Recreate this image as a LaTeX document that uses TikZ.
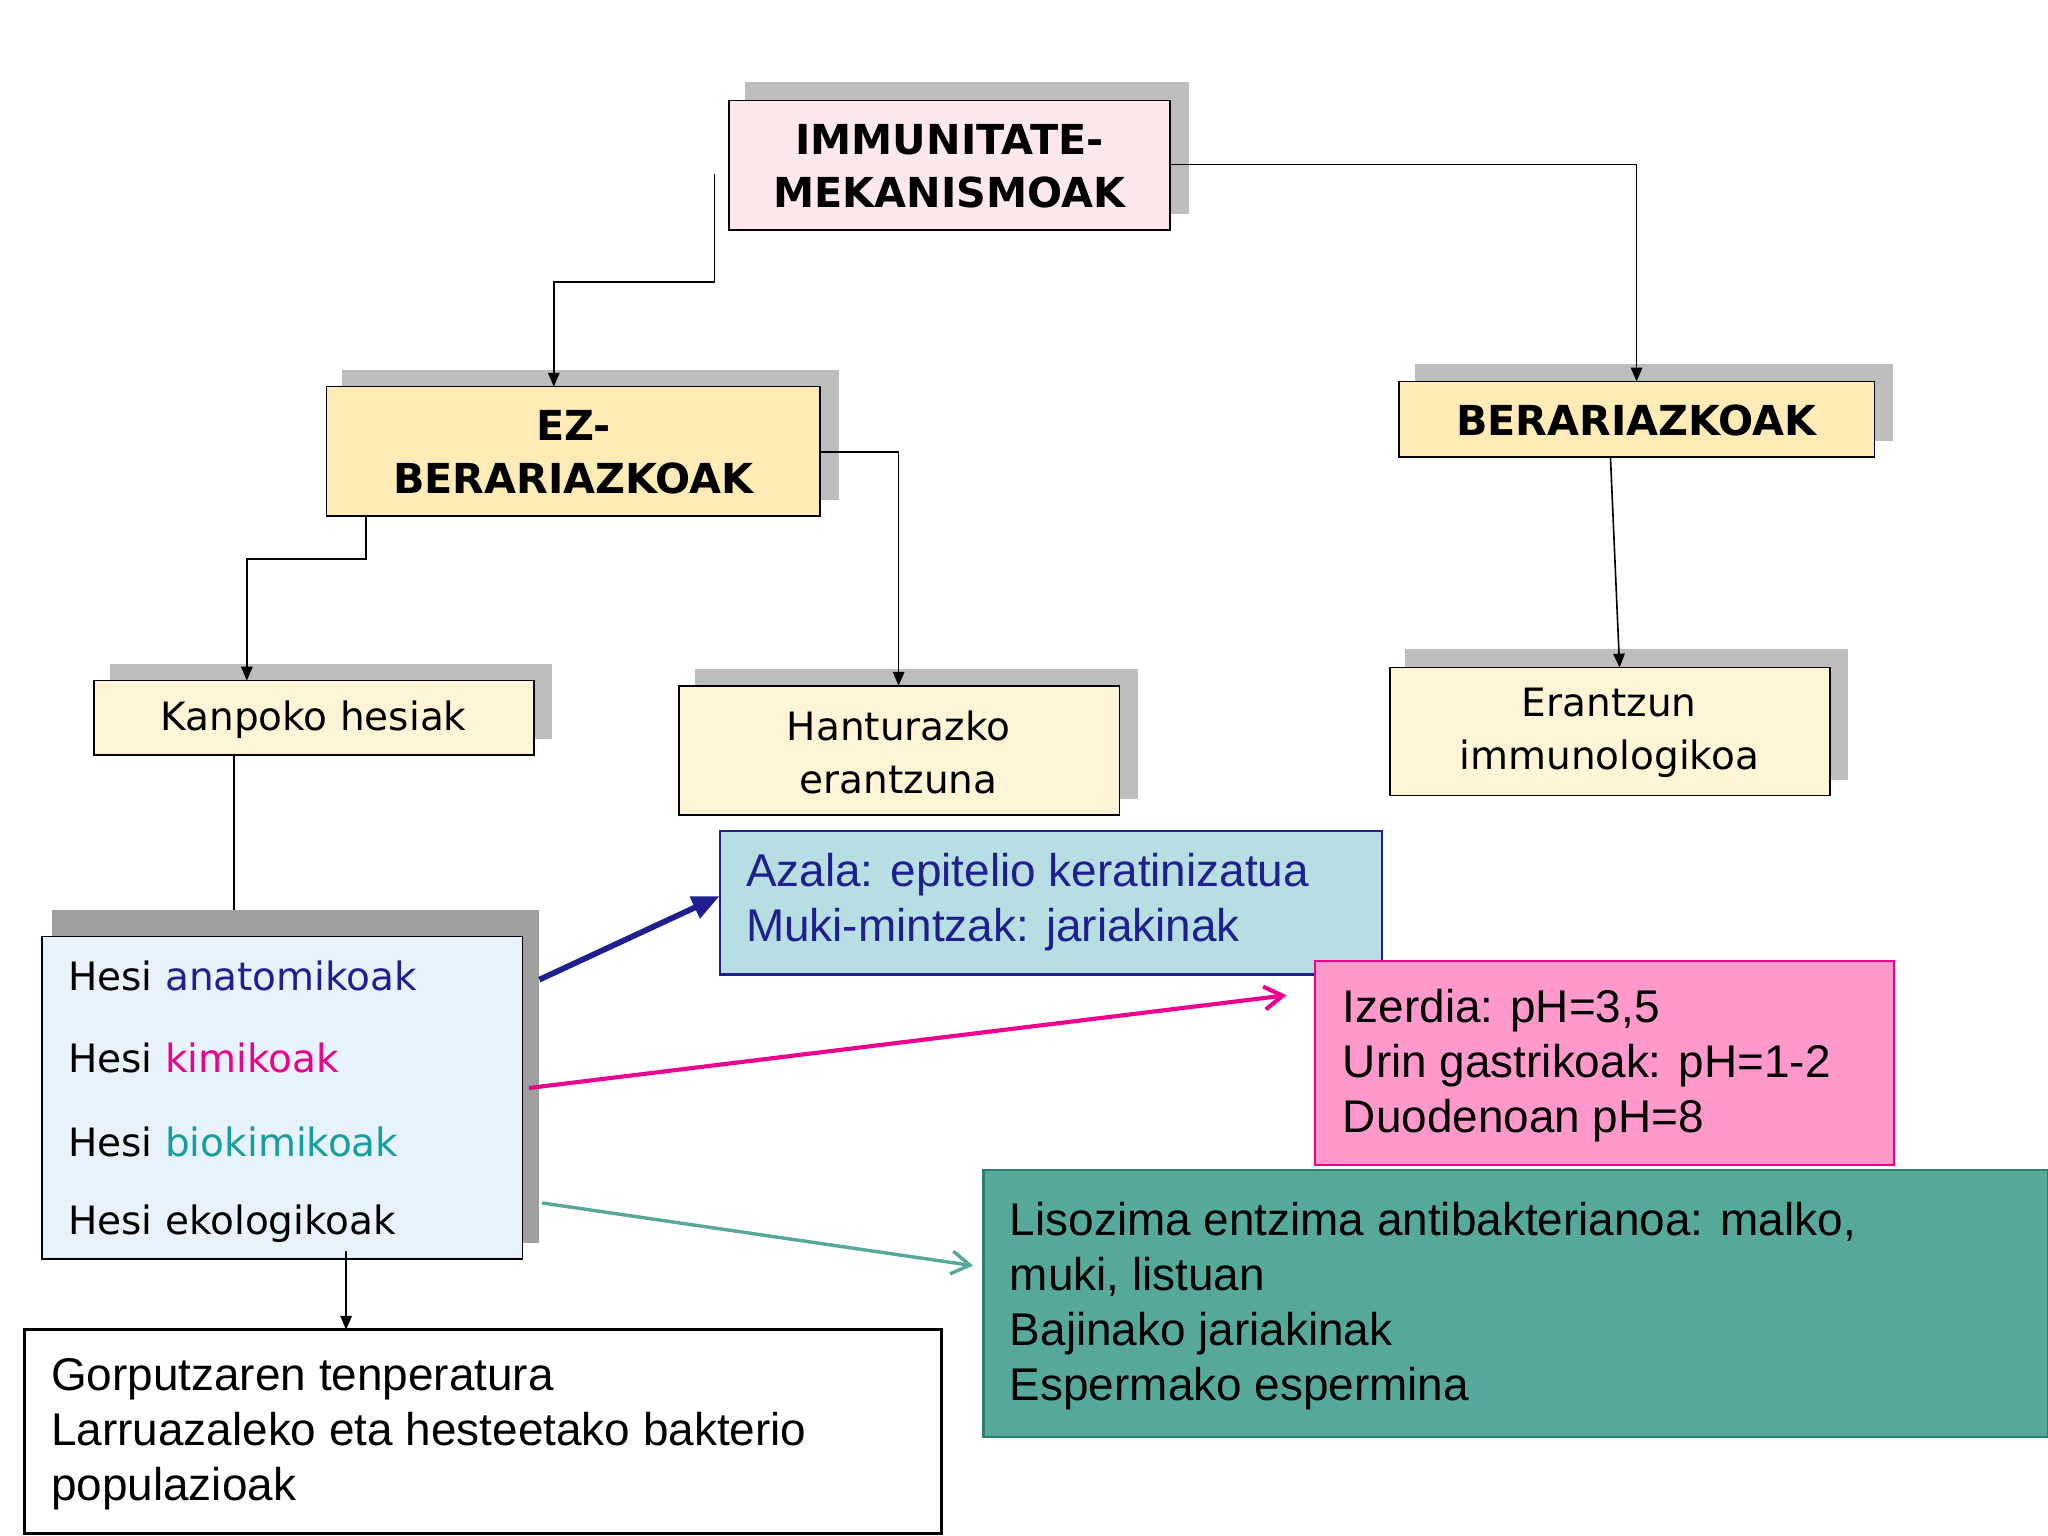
\documentclass[tikz,border=0pt]{standalone}
\usepackage{fontspec}
\setmainfont{Liberation Sans}
\newfontfamily\vfont{DejaVu Sans}
\usetikzlibrary{arrows.meta}
\definecolor{pinkbox}{HTML}{FDE9EC}
\definecolor{yelbox}{HTML}{FFEBB5}
\definecolor{ltyel}{HTML}{FFF5D6}
\definecolor{hesibox}{HTML}{E8F2FC}
\definecolor{azbox}{HTML}{B6DEE3}
\definecolor{navyc}{HTML}{1F1F8F}
\definecolor{izbox}{HTML}{FF99CC}
\definecolor{lisbox}{HTML}{55A89A}
\definecolor{lisborder}{HTML}{2E7F72}
\definecolor{tealt}{HTML}{169E9E}
\definecolor{shad}{HTML}{BDBDBD}
\begin{document}
\begin{tikzpicture}[x=0.02cm,y=-0.02cm,
  conn/.style={draw=black,line width=0.7pt},
  arr/.style={conn,-{Triangle[length=6pt,width=5pt]}},
  tbox/.style={draw=black,line width=0.7pt,align=center,inner sep=0pt}]
\useasboundingbox (0,0) rectangle (1568,1176);
% shadows
\fill[shad] (570,63) rectangle (910,164);
\fill[shad] (262,283) rectangle (642,383);
\fill[shad] (1083,279) rectangle (1449,338);
\fill[shad] (84,508) rectangle (423,566);
\fill[shad] (532,512) rectangle (871,612);
\fill[shad] (1076,497) rectangle (1415,597);
\fill[gray!75] (40,697) rectangle (413,952);
% boxes
\draw[fill=pinkbox,line width=0.7pt] (558,77) rectangle (896,176);
\node[font=\vfont\bfseries\fontsize{18}{23}\selectfont,align=center] (imm) at (727,127) {IMMUNITATE-\\MEKANISMOAK};
\draw[fill=yelbox,line width=0.7pt] (250,296) rectangle (628,395);
\node[font=\vfont\bfseries\fontsize{18}{23}\selectfont,align=center] (ez) at (439,346) {EZ-\\BERARIAZKOAK};
\draw[fill=yelbox,line width=0.7pt] (1071,292) rectangle (1435,350);
\node[font=\vfont\bfseries\fontsize{18}{23}\selectfont] (ber) at (1253,322) {BERARIAZKOAK};
\draw[fill=ltyel,line width=0.7pt] (72,521) rectangle (409,578);
\node[font=\vfont\fontsize{17}{23}\selectfont] (kan) at (240,551) {Kanpoko hesiak};
\draw[fill=ltyel,line width=0.7pt] (520,525) rectangle (857,624);
\node[font=\vfont\fontsize{17}{23}\selectfont,align=center] (han) at (688,576) {Hanturazko\\erantzuna};
\draw[fill=ltyel,line width=0.7pt] (1064,511) rectangle (1401,609);
\node[font=\vfont\fontsize{17}{23}\selectfont,align=center] (era) at (1232,561) {Erantzun\\immunologikoa};
\draw[fill=hesibox,line width=0.7pt] (32,717) rectangle (400,964);
\node[font=\vfont\fontsize{17}{23}\selectfont,anchor=west] (h1) at (46,747) {Hesi \textcolor{navyc}{anatomikoak}};
\node[font=\vfont\fontsize{17}{23}\selectfont,anchor=west] (h2) at (46,810) {Hesi \textcolor{magenta}{kimikoak}};
\node[font=\vfont\fontsize{17}{23}\selectfont,anchor=west] (h3) at (46,874) {Hesi \textcolor{tealt}{biokimikoak}};
\node[font=\vfont\fontsize{17}{23}\selectfont,anchor=west] (h4) at (46,937) {Hesi ekologikoak};
\draw[fill=azbox,draw=navyc,line width=1pt] (551,636) rectangle (1058,746);
\node[font=\fontsize{20}{24}\selectfont,text=navyc,align=left,anchor=west] (az) at (565,691) {Azala: epitelio keratinizatua\\Muki-mintzak: jariakinak};
\draw[fill=izbox,draw=magenta,line width=1pt] (1007,736) rectangle (1450,892);
\node[font=\fontsize{20}{24}\selectfont,align=left,anchor=west] (iz) at (1022,816) {Izerdia: pH=3,5\\Urin gastrikoak: pH=1-2\\Duodenoan pH=8};
\draw[fill=lisbox,draw=lisborder,line width=1pt] (753,896) rectangle (1568,1100);
\node[font=\fontsize{20}{24}\selectfont,align=left,anchor=west] (lis) at (767,1000) {Lisozima entzima antibakterianoa: malko,\\muki, listuan\\Bajinako jariakinak\\Espermako espermina};
\draw[fill=white,line width=1.4pt] (19,1018) rectangle (721,1174);
\node[font=\fontsize{20}{24}\selectfont,align=left,anchor=west] (gor) at (33,1098) {Gorputzaren tenperatura\\Larruazaleko eta hesteetako bakterio\\populazioak};
% connectors
\coordinate (a0) at (547,133); \coordinate (ezt) at (424,296);
\draw[arr] (a0) -- (547,216) -- (424,216) -- (ezt);
\coordinate (i0) at (896,126); \coordinate (bert) at (1253,292);
\draw[arr] (i0) -- (1253,126) -- (bert);
\coordinate (e0) at (280,395); \coordinate (kt) at (189,521);
\draw[arr] (e0) -- (280,428) -- (189,428) -- (kt);
\coordinate (e1) at (628,346); \coordinate (ht) at (688,525);
\draw[arr] (e1) -- (688,346) -- (ht);
\coordinate (b0) at (1233,350); \coordinate (et) at (1240,511);
\draw[arr] (b0) -- (et);
\coordinate (k0) at (179,578); \coordinate (hs) at (179,697);
\draw[conn] (k0) -- (hs);
\coordinate (n0) at (413,750); \coordinate (n1) at (551,686);
\draw[navyc,line width=2.5pt,-{Triangle[length=12pt,width=10pt]}] (n0) -- (n1);
\coordinate (m0) at (405,833); \coordinate (m1) at (985,762);
\draw[magenta,line width=1.8pt,-{Straight Barb[length=8pt,width=10pt]}] (m0) -- (m1);
\coordinate (t0) at (415,921); \coordinate (t1) at (745,969);
\draw[lisbox,line width=1.5pt,-{Straight Barb[length=8pt,width=10pt]}] (t0) -- (t1);
\coordinate (g0) at (265,958); \coordinate (g1) at (265,1018);
\draw[arr] (g0) -- (g1);
\end{tikzpicture}
\end{document}
